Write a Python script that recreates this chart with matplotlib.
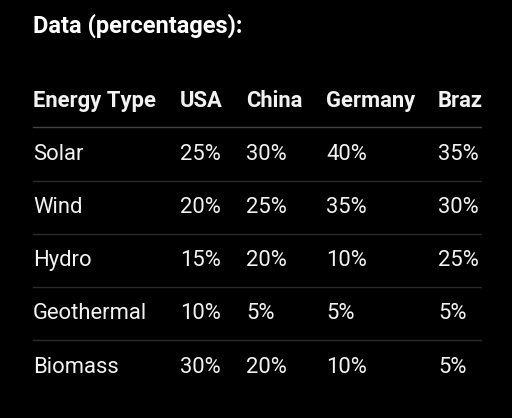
import matplotlib
matplotlib.use("Agg")
import matplotlib.pyplot as plt

title = "Data (percentages):"
columns = ["Energy Type", "USA", "China", "Germany", "Brazil"]
energy_types = ["Solar", "Wind", "Hydro", "Geothermal", "Biomass"]
usa = ["25%", "20%", "15%", "10%", "30%"]
china = ["30%", "25%", "20%", "5%", "20%"]
germany = ["40%", "35%", "10%", "5%", "10%"]
brazil = ["35%", "30%", "25%", "5%", "5%"]

plt.rcParams['font.family'] = ['Roboto', 'DejaVu Sans']
fig = plt.figure(figsize=(5.12, 4.18), dpi=100, facecolor='black')
ax = fig.add_axes([0, 0, 482/512, 1])
ax.set_xlim(0, 482); ax.set_ylim(418, 0); ax.axis('off')
ax.set_facecolor('black')

fig.text(33/512, 1-26/418, title, color='white', fontsize=17, fontweight='bold', va='center', ha='left')

col_x = [33, 180, 246, 326, 438]
header_y = 101
row_y0, row_h = 154, 53.3
fg = '#f2f2f2'
for x, c in zip(col_x, columns):
    ax.text(x, header_y, c, color=fg, fontsize=15.8, fontweight='bold', va='center', ha='left', clip_on=True)
ax.plot([33, 482], [127, 127], color='#444444', lw=1)
cols = [energy_types, usa, china, germany, brazil]
for i in range(len(energy_types)):
    y = row_y0 + i*row_h
    for x, col in zip(col_x, cols):
        ax.text(x, y, col[i], color=fg, fontsize=15.8, va='center', ha='left', clip_on=True)
    if i < len(energy_types)-1:
        ax.plot([33, 482], [y+26.5, y+26.5], color='#2a2a2a', lw=1)
fig.savefig('out.png', dpi=100, facecolor='black')
